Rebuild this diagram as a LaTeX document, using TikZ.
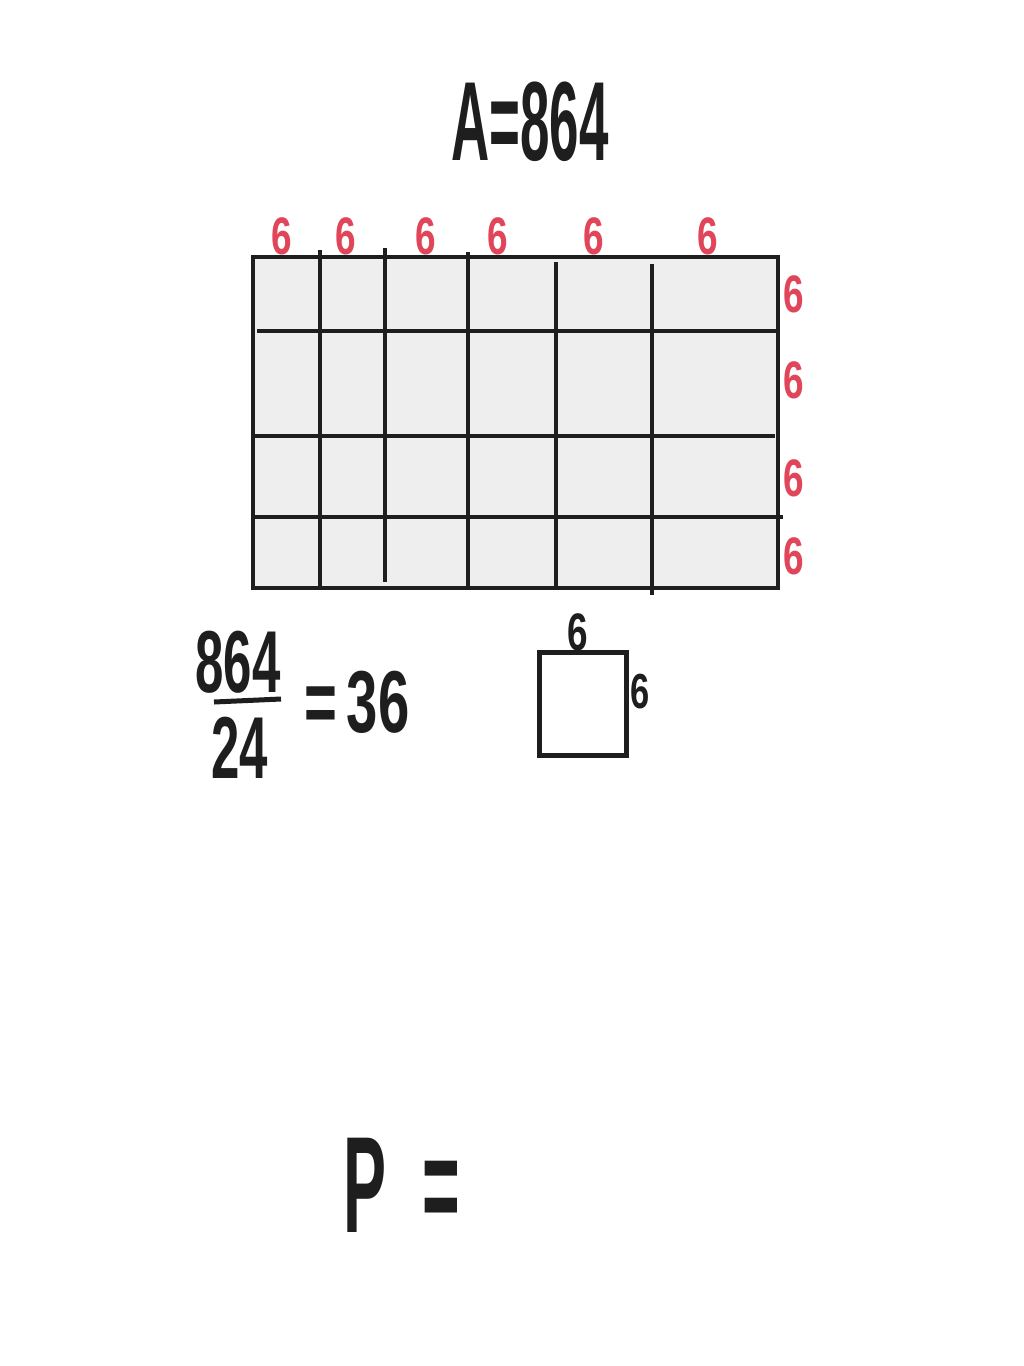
\documentclass[tikz,border=0pt]{standalone}
\usepackage{fontspec}
\setmainfont{Liberation Sans}
\usepackage{xcolor}
\usepackage{graphicx}
\usetikzlibrary{positioning}
\definecolor{sidered}{HTML}{E0455A}
\definecolor{cellgray}{HTML}{EEEEEE}
\definecolor{ink}{HTML}{1E1E1E}
\newcommand{\narrow}[2]{\scalebox{#1}[1]{#2}}

\begin{document}
\begin{tikzpicture}[
  x=0.01cm, y=-0.01cm,
  gridline/.style={draw=ink,line width=0.4mm},
  sidelabel/.style={text=sidered,font=\bfseries\fontsize{15}{18}\selectfont,inner sep=0pt},
  inklabel/.style={text=ink,inner sep=0pt},
  fraclabel/.style={inklabel,font=\bfseries\fontsize{25}{28}\selectfont}
    ]
\useasboundingbox (0,0) rectangle (1024,1366);

% area
\node[inklabel,font=\bfseries\fontsize{32}{36}\selectfont] (area) at (530,122) {\narrow{0.47}{A=864}};

% the big rectangle
\path[fill=cellgray] (253,257) rectangle (778,588);
\foreach \x/\ya/\yb in {320/250/586, 385/248/582, 468/252/588, 556/262/588, 652/264/595}
  \draw[gridline] (\x,\ya) -- (\x,\yb);
\foreach \y/\xa/\xb in {331/257/777, 436/253/775, 517/253/783}
  \draw[gridline] (\xa,\y) -- (\xb,\y);
\draw[gridline] (253,257) rectangle (778,588);

% side lengths
\foreach \x [count=\i] in {282,346,426,498,594,708}
  \node[sidelabel] (top\i) at (\x,236) {\narrow{0.7}{6}};
\foreach \y [count=\i] in {294,380,478,556}
  \node[sidelabel] (right\i) at (794,\y) {\narrow{0.7}{6}};

% number of squares
\node[fraclabel] (num) at (238,662) {\narrow{0.58}{864}};
\node[fraclabel] (den) at (240,748) {\narrow{0.58}{24}};
\draw[gridline,line width=0.5mm] (214,702) -- (281,699);
\node[fraclabel,anchor=west] (res) at (304,702) {\narrow{0.64}{=\,36}};

% one square
\node[draw=ink,line width=0.5mm,minimum width=87*0.01cm,minimum height=103*0.01cm,inner sep=0pt] (sq) at (583,704) {};
\node[inklabel,font=\bfseries\fontsize{15}{18}\selectfont] (sqtop) at (578,632) {\narrow{0.7}{6}};
\node[inklabel,font=\bfseries\fontsize{14}{17}\selectfont] (sqright) at (640,692) {\narrow{0.7}{6}};

% perimeter
\node[inklabel,font=\bfseries\fontsize{39}{44}\selectfont] (perim) at (402,1185) {\narrow{0.47}{P\ \ =}};
\end{tikzpicture}
\end{document}
